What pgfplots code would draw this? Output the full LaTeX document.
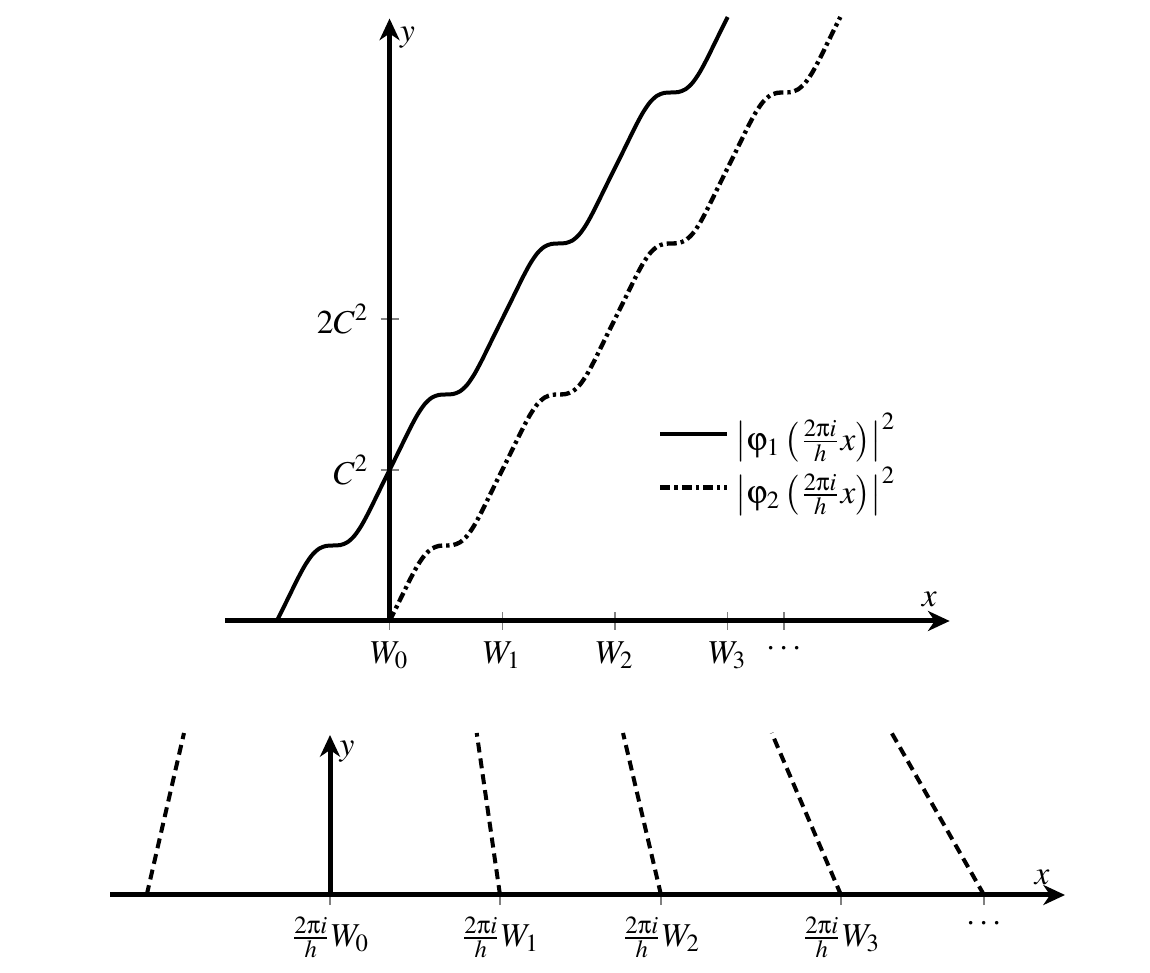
\documentclass[border=0pt]{standalone}
\usepackage{mathptmx}
\usepackage[Symbol]{upgreek}
\usepackage{pgfplots}
\pgfplotsset{compat=1.18}
\usetikzlibrary{arrows.meta}
\tikzset{myarrow/.style={line width=1.5pt, -{Stealth[length=6.5pt,width=6pt,inset=2pt]}}}
\begin{document}
\begin{tikzpicture}
\useasboundingbox (0,0) rectangle (345pt,291.6pt);
\begin{axis}[
  at={(67.5pt,105.3pt)}, anchor=south west,
  x=33.81pt, y=45.3pt,
  xmin=-1.46, xmax=4.97, ymin=0, ymax=3.99,
  axis lines=middle,
  axis line style={myarrow},
  every inner x axis line/.append style={myarrow},
  every inner y axis line/.append style={myarrow},
  hide obscured x ticks=false,
  clip=false,
  xtick={0,1,2,3,3.5}, xticklabels={$W_0$,$W_1$,$W_2$,$W_3$,$\cdots$},
  ytick={1,2}, yticklabels={$C^2$,$2C^2$},
  tick align=center, major tick length=5.4pt,
  tick style={gray, line width=0.4pt},
  xlabel={$x$}, ylabel={$y$},
  every axis x label/.style={at={(axis cs:4.79,0.14)}, anchor=center},
  every axis y label/.style={at={(axis cs:0.16,3.86)}, anchor=center},
  legend style={draw=none, fill=none, at={(axis cs:2.29,1.06)}, anchor=west, row sep=-0.5pt},
  legend cell align=left,
  legend image code/.code={\draw[#1] (0cm,0cm) -- (0.7cm,0cm);},
]
\addplot[black, line width=1.2pt, smooth, mark=none] coordinates {
(-1,0) (-0.9375,0.0939) (-0.875,0.1891) (-0.8125,0.2833) (-0.75,0.369) (-0.6875,0.4366) (-0.625,0.4791) (-0.5625,0.4972)
(-0.5,0.5) (-0.4375,0.5028) (-0.375,0.5209) (-0.3125,0.5634) (-0.25,0.631) (-0.1875,0.7167) (-0.125,0.8109) (-0.0625,0.9061)
(0,1) (0.0625,1.0939) (0.125,1.1891) (0.1875,1.2833) (0.25,1.369) (0.3125,1.4366) (0.375,1.4791) (0.4375,1.4972)
(0.5,1.5) (0.5625,1.5028) (0.625,1.5209) (0.6875,1.5634) (0.75,1.631) (0.8125,1.7167) (0.875,1.8109) (0.9375,1.9061)
(1,2) (1.0625,2.0939) (1.125,2.1891) (1.1875,2.2833) (1.25,2.369) (1.3125,2.4366) (1.375,2.4791) (1.4375,2.4972)
(1.5,2.5) (1.5625,2.5028) (1.625,2.5209) (1.6875,2.5634) (1.75,2.631) (1.8125,2.7167) (1.875,2.8109) (1.9375,2.9061)
(2,3) (2.0625,3.0939) (2.125,3.1891) (2.1875,3.2833) (2.25,3.369) (2.3125,3.4366) (2.375,3.4791) (2.4375,3.4972)
(2.5,3.5) (2.5625,3.5028) (2.625,3.5209) (2.6875,3.5634) (2.75,3.631) (2.8125,3.7167) (2.875,3.8109) (2.9375,3.9061)
(3,4)
};
\addlegendentry{$\left|\upvarphi_1\left(\frac{2\uppi i}{h}x\right)\right|^2$}
\addplot[black, line width=1.3pt, smooth, mark=none, dash pattern=on 3pt off 1.2pt on 1pt off 1.2pt] coordinates {
(0,0) (0.0625,0.0939) (0.125,0.1891) (0.1875,0.2833) (0.25,0.369) (0.3125,0.4366) (0.375,0.4791) (0.4375,0.4972)
(0.5,0.5) (0.5625,0.5028) (0.625,0.5209) (0.6875,0.5634) (0.75,0.631) (0.8125,0.7167) (0.875,0.8109) (0.9375,0.9061)
(1,1) (1.0625,1.0939) (1.125,1.1891) (1.1875,1.2833) (1.25,1.369) (1.3125,1.4366) (1.375,1.4791) (1.4375,1.4972)
(1.5,1.5) (1.5625,1.5028) (1.625,1.5209) (1.6875,1.5634) (1.75,1.631) (1.8125,1.7167) (1.875,1.8109) (1.9375,1.9061)
(2,2) (2.0625,2.0939) (2.125,2.1891) (2.1875,2.2833) (2.25,2.369) (2.3125,2.4366) (2.375,2.4791) (2.4375,2.4972)
(2.5,2.5) (2.5625,2.5028) (2.625,2.5209) (2.6875,2.5634) (2.75,2.631) (2.8125,2.7167) (2.875,2.8109) (2.9375,2.9061)
(3,3) (3.0625,3.0939) (3.125,3.1891) (3.1875,3.2833) (3.25,3.369) (3.3125,3.4366) (3.375,3.4791) (3.4375,3.4972)
(3.5,3.5) (3.5625,3.5028) (3.625,3.5209) (3.6875,3.5634) (3.75,3.631) (3.8125,3.7167) (3.875,3.8109) (3.9375,3.9061)
(4,4)
};
\addlegendentry{$\left|\upvarphi_2\left(\frac{2\uppi i}{h}x\right)\right|^2$}
\end{axis}
\begin{axis}[
  at={(33pt,23.1pt)}, anchor=south west,
  x=30pt, y=30pt,
  xmin=-2.2, xmax=7.35, ymin=0, ymax=1.6,
  axis lines=middle,
  axis line style={myarrow},
  every inner x axis line/.append style={myarrow},
  every inner y axis line/.append style={myarrow},
  hide obscured x ticks=false,
  clip=false,
  xtick={0,1.70,3.31,5.11,6.54},
  xticklabels={$\frac{2\uppi i}{h}W_0$,$\frac{2\uppi i}{h}W_1$,$\frac{2\uppi i}{h}W_2$,$\frac{2\uppi i}{h}W_3$,$\cdots$},
  ytick=\empty,
  tick align=outside, major tick length=3pt,
  tick style={gray, line width=0.4pt},
  xlabel={$x$}, ylabel={$y$},
  every axis x label/.style={at={(axis cs:7.12,0.18)}, anchor=center},
  every axis y label/.style={at={(axis cs:0.17,1.43)}, anchor=center},
]
\addplot[black, line width=1.2pt, mark=none, dash pattern=on 3pt off 1.8pt] coordinates {(-1.833,0) (-1.46,1.62)};
\addplot[black, line width=1.2pt, mark=none, dash pattern=on 3pt off 1.8pt] coordinates {(1.70,0) (1.467,1.62)};
\addplot[black, line width=1.2pt, mark=none, dash pattern=on 3pt off 1.8pt] coordinates {(3.31,0) (2.93,1.62)};
\addplot[black, line width=1.2pt, mark=none, dash pattern=on 3pt off 1.8pt] coordinates {(5.11,0) (4.417,1.62)};
\addplot[black, line width=1.2pt, mark=none, dash pattern=on 3pt off 1.8pt] coordinates {(6.54,0) (5.617,1.62)};
\end{axis}
\end{tikzpicture}
\end{document}
